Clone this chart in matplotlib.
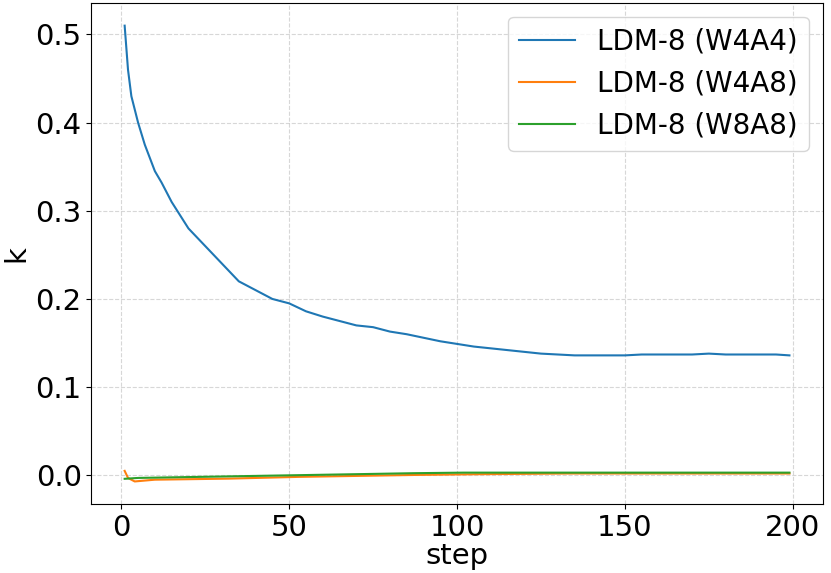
import numpy as np
import matplotlib
matplotlib.use("Agg")
import matplotlib.pyplot as plt

# values at selected steps
w4a4_steps = [1, 2, 3, 5, 7, 10, 12, 15, 20, 25, 30, 35, 40, 45, 50, 55, 60, 65, 70, 75, 80,
              85, 90, 95, 100, 105, 110, 115, 120, 125, 130, 135, 140, 145, 150, 155, 160,
              165, 170, 175, 180, 185, 190, 195, 199]
w4a4_k = [0.51, 0.46, 0.43, 0.40, 0.375, 0.345, 0.332, 0.31, 0.28, 0.26, 0.24, 0.22, 0.21,
          0.20, 0.195, 0.186, 0.180, 0.175, 0.170, 0.168, 0.163, 0.160, 0.156, 0.152, 0.149,
          0.146, 0.144, 0.142, 0.140, 0.138, 0.137, 0.136, 0.136, 0.136, 0.136, 0.137, 0.137,
          0.137, 0.137, 0.138, 0.137, 0.137, 0.137, 0.137, 0.136]

w4a8_steps = [1, 2, 4, 10, 30, 50, 80, 100, 130, 160, 199]
w4a8_k = [0.005, -0.003, -0.007, -0.005, -0.004, -0.002, 0.0, 0.001, 0.002, 0.002, 0.002]

w8a8_steps = [1, 5, 20, 50, 80, 100, 150, 199]
w8a8_k = [-0.004, -0.003, -0.002, 0.0, 0.002, 0.003, 0.003, 0.003]

steps = np.arange(1, 200)

fig, ax = plt.subplots(figsize=(8.31, 5.73), dpi=100)
ax.plot(steps, np.interp(steps, w4a4_steps, w4a4_k), color='#1f77b4', label='LDM-8 (W4A4)')
ax.plot(steps, np.interp(steps, w4a8_steps, w4a8_k), color='#ff7f0e', label='LDM-8 (W4A8)')
ax.plot(steps, np.interp(steps, w8a8_steps, w8a8_k), color='#2ca02c', label='LDM-8 (W8A8)')

ax.set_xlabel('step', fontsize=21, labelpad=0)
ax.set_ylabel('k', fontsize=21)
ax.tick_params(labelsize=21)
ax.set_xticks([0, 50, 100, 150, 200])
ax.set_yticks([0.0, 0.1, 0.2, 0.3, 0.4, 0.5])
ax.grid(True, linestyle='--', alpha=0.5)
ax.legend(fontsize=20, loc='upper right')
plt.subplots_adjust(left=0.11, right=0.99, top=0.995, bottom=0.12)
plt.savefig('out.png')
